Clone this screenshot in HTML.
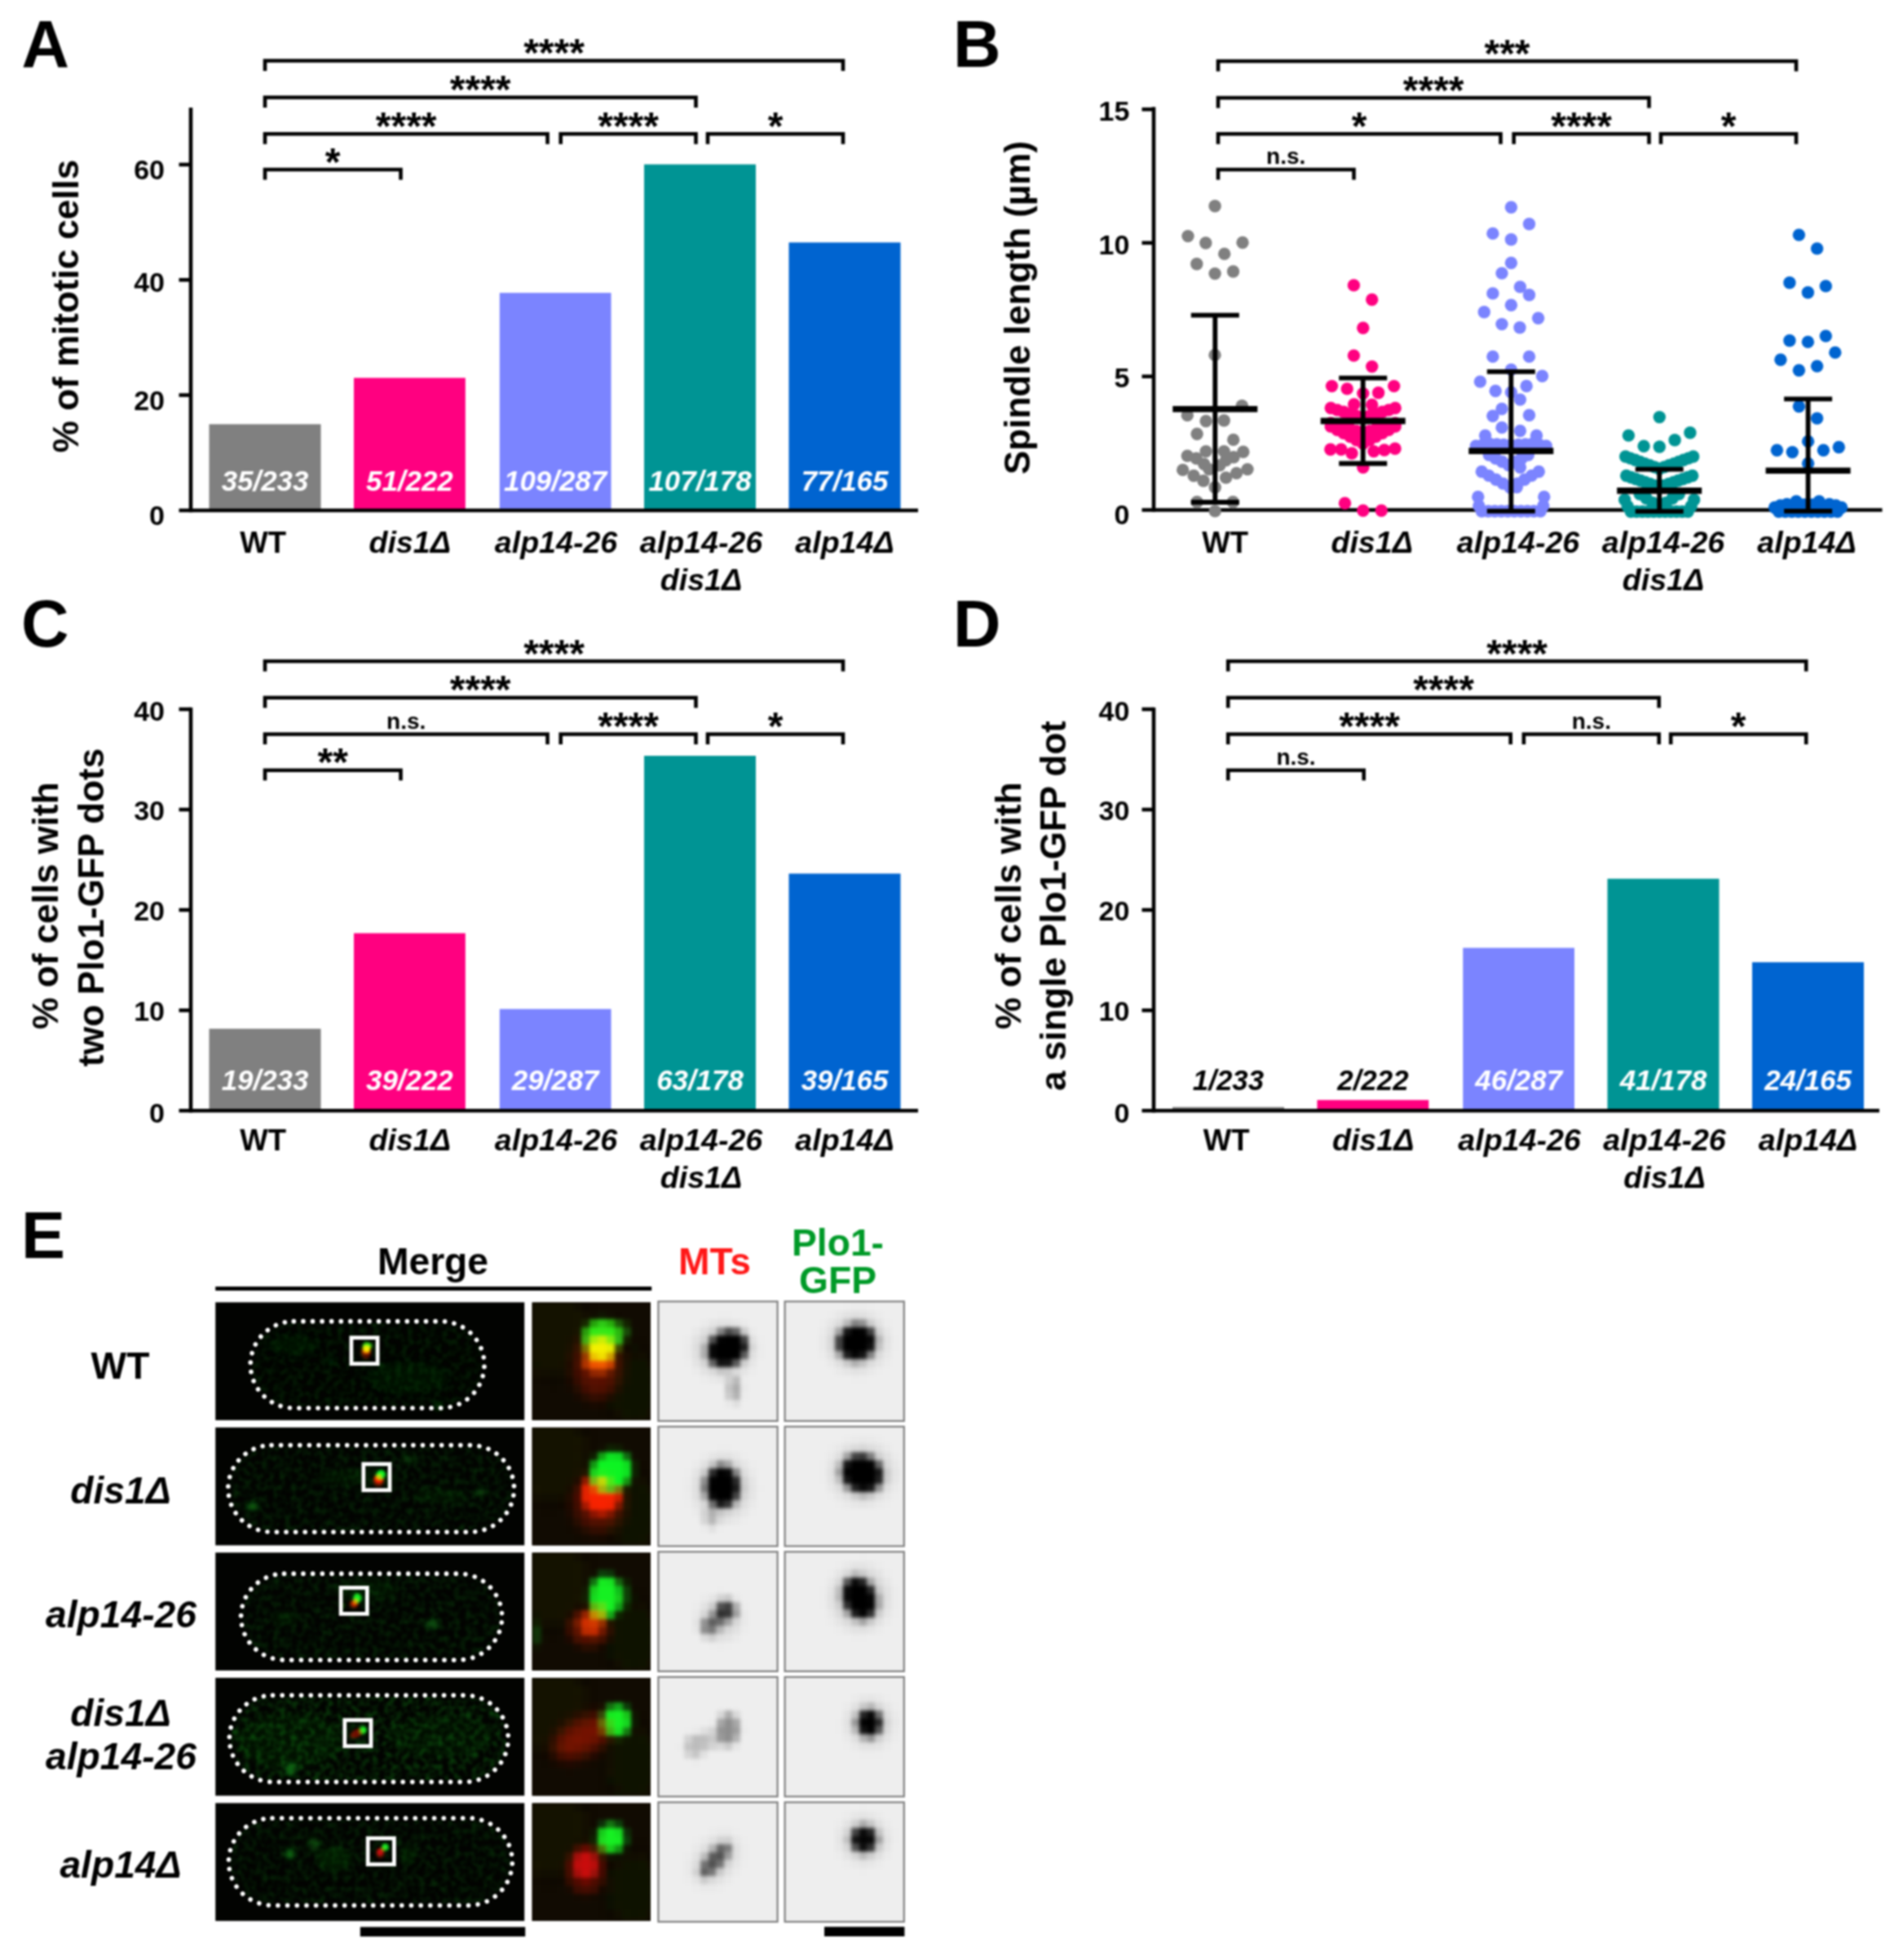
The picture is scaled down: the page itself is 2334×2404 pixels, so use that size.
<!DOCTYPE html><html><head><meta charset="utf-8"><title>Figure</title><style>html,body{margin:0;padding:0;background:#fff}svg{display:block;filter:blur(1px);font-family:"Liberation Sans",Arial,sans-serif;font-weight:bold;text-anchor:middle}</style></head><body><svg width="2334" height="2404" viewBox="0 0 2334 2404"><text x="26.5" y="82.3" font-size="81" text-anchor="start">A</text><text x="1169" y="82.3" font-size="81" text-anchor="start">B</text><text x="26" y="793" font-size="81" text-anchor="start">C</text><text x="1169" y="793" font-size="81" text-anchor="start">D</text><text x="26" y="1543" font-size="81" text-anchor="start">E</text><rect x="256.5" y="520.3" width="137" height="106.7" fill="#808080"/><rect x="434" y="463.5" width="136.8" height="163.5" fill="#ff0080"/><rect x="612.8" y="359.2" width="136.7" height="267.8" fill="#7b84ff"/><rect x="790" y="201.6" width="137" height="425.4" fill="#009494"/><rect x="967.5" y="297.4" width="137" height="329.6" fill="#0064d0"/><line x1="234" y1="132" x2="234" y2="628.3" stroke-width="4.6" stroke="#000"/><line x1="219.5" y1="626" x2="1126" y2="626" stroke-width="4.6" stroke="#000"/><line x1="219.5" y1="201.9" x2="234" y2="201.9" stroke-width="4.6" stroke="#000"/><text x="202" y="219.9" font-size="34" text-anchor="end">60</text><line x1="219.5" y1="343.3" x2="234" y2="343.3" stroke-width="4.6" stroke="#000"/><text x="202" y="358.3" font-size="34" text-anchor="end">40</text><line x1="219.5" y1="484.6" x2="234" y2="484.6" stroke-width="4.6" stroke="#000"/><text x="202" y="502.6" font-size="34" text-anchor="end">20</text><text x="202" y="644" font-size="34" text-anchor="end">0</text><text x="325" y="602.3" font-size="34.9" font-style="italic" fill="#fff">35/233</text><text x="502.4" y="602.3" font-size="34.9" font-style="italic" fill="#fff">51/222</text><text x="681.1" y="602.3" font-size="34.9" font-style="italic" fill="#fff">109/287</text><text x="858.5" y="602.3" font-size="34.9" font-style="italic" fill="#fff">107/178</text><text x="1036" y="602.3" font-size="34.9" font-style="italic" fill="#fff">77/165</text><text x="322.7" y="677.6" font-size="36.5">WT</text><text x="502.7" y="677.6" font-size="37.6" font-style="italic">dis1Δ</text><text x="682" y="677.6" font-size="37.6" font-style="italic">alp14-26</text><text x="860" y="677.6" font-size="37.6" font-style="italic">alp14-26</text><text x="860" y="724.2" font-size="37.6" font-style="italic">dis1Δ</text><text x="1036" y="677.6" font-size="37.6" font-style="italic">alp14Δ</text><g fill="none" stroke="#000" stroke-width="4.6" stroke-linejoin="miter"><path d="M325 87 V74.5 H1034 V87"/><path d="M325 132 V119.5 H853.5 V132"/><path d="M325 176.8 V164.3 H671.5 V176.8"/><path d="M687.7 176.8 V164.3 H853.5 V176.8"/><path d="M868 176.8 V164.3 H1034 V176.8"/><path d="M325 220.5 V208 H491.5 V220.5"/></g><text x="679.5" y="81" font-size="48">****</text><text x="589.2" y="126" font-size="48">****</text><text x="498.2" y="170.8" font-size="48">****</text><text x="770.6" y="170.8" font-size="48">****</text><text x="951" y="170.8" font-size="48">*</text><text x="408.2" y="214.5" font-size="48">*</text><text transform="translate(96 375.5) rotate(-90)" font-size="44">% of mitotic cells</text><rect x="256.5" y="1261.8" width="137" height="101.5" fill="#808080"/><rect x="434" y="1144.6" width="136.8" height="218.7" fill="#ff0080"/><rect x="612.8" y="1237.6" width="136.7" height="125.7" fill="#7b84ff"/><rect x="790" y="927" width="137" height="436.3" fill="#009494"/><rect x="967.5" y="1071.5" width="137" height="291.8" fill="#0064d0"/><line x1="234" y1="867.7" x2="234" y2="1364.6" stroke-width="4.6" stroke="#000"/><line x1="219.5" y1="1362.3" x2="1126" y2="1362.3" stroke-width="4.6" stroke="#000"/><line x1="219.5" y1="869.9" x2="234" y2="869.9" stroke-width="4.6" stroke="#000"/><text x="202" y="883.9" font-size="34" text-anchor="end">40</text><line x1="219.5" y1="993" x2="234" y2="993" stroke-width="4.6" stroke="#000"/><text x="202" y="1006" font-size="34" text-anchor="end">30</text><line x1="219.5" y1="1116.1" x2="234" y2="1116.1" stroke-width="4.6" stroke="#000"/><text x="202" y="1129.1" font-size="34" text-anchor="end">20</text><line x1="219.5" y1="1239.2" x2="234" y2="1239.2" stroke-width="4.6" stroke="#000"/><text x="202" y="1252.2" font-size="34" text-anchor="end">10</text><text x="202" y="1377.3" font-size="34" text-anchor="end">0</text><text x="325" y="1337.4" font-size="34.9" font-style="italic" fill="#fff">19/233</text><text x="502.4" y="1337.4" font-size="34.9" font-style="italic" fill="#fff">39/222</text><text x="681.1" y="1337.4" font-size="34.9" font-style="italic" fill="#fff">29/287</text><text x="858.5" y="1337.4" font-size="34.9" font-style="italic" fill="#fff">63/178</text><text x="1036" y="1337.4" font-size="34.9" font-style="italic" fill="#fff">39/165</text><text x="322.7" y="1411.2" font-size="36.5">WT</text><text x="502.7" y="1411.2" font-size="37.6" font-style="italic">dis1Δ</text><text x="682" y="1411.2" font-size="37.6" font-style="italic">alp14-26</text><text x="860" y="1411.2" font-size="37.6" font-style="italic">alp14-26</text><text x="860" y="1457" font-size="37.6" font-style="italic">dis1Δ</text><text x="1036" y="1411.2" font-size="37.6" font-style="italic">alp14Δ</text><g fill="none" stroke="#000" stroke-width="4.6" stroke-linejoin="miter"><path d="M325 823.5 V811 H1034 V823.5"/><path d="M325 868.3 V855.8 H853.5 V868.3"/><path d="M325 913 V900.5 H671.5 V913"/><path d="M687.7 913 V900.5 H853.5 V913"/><path d="M868 913 V900.5 H1034 V913"/><path d="M325 957.2 V944.7 H491.5 V957.2"/></g><text x="679.5" y="817.5" font-size="48">****</text><text x="589.2" y="862.3" font-size="48">****</text><text x="498.2" y="893.5" font-size="28">n.s.</text><text x="770.6" y="907" font-size="48">****</text><text x="951" y="907" font-size="48">*</text><text x="408.2" y="951.2" font-size="48">**</text><text transform="translate(71 1111) rotate(-90)" font-size="44">% of cells with</text><text transform="translate(127 1113) rotate(-90)" font-size="44">two Plo1-GFP dots</text><rect x="1438" y="1357.8" width="137" height="5.5" fill="#808080"/><rect x="1615.5" y="1349.2" width="136.8" height="14.1" fill="#ff0080"/><rect x="1794.3" y="1162.6" width="136.7" height="200.7" fill="#7b84ff"/><rect x="1971.5" y="1077.8" width="137" height="285.5" fill="#009494"/><rect x="2149" y="1180.2" width="137" height="183.1" fill="#0064d0"/><line x1="1415" y1="867.7" x2="1415" y2="1364.6" stroke-width="4.6" stroke="#000"/><line x1="1400.5" y1="1362.3" x2="2305" y2="1362.3" stroke-width="4.6" stroke="#000"/><line x1="1400.5" y1="869.9" x2="1415" y2="869.9" stroke-width="4.6" stroke="#000"/><text x="1385.4" y="883.9" font-size="34" text-anchor="end">40</text><line x1="1400.5" y1="993" x2="1415" y2="993" stroke-width="4.6" stroke="#000"/><text x="1385.4" y="1006" font-size="34" text-anchor="end">30</text><line x1="1400.5" y1="1116.1" x2="1415" y2="1116.1" stroke-width="4.6" stroke="#000"/><text x="1385.4" y="1129.1" font-size="34" text-anchor="end">20</text><line x1="1400.5" y1="1239.2" x2="1415" y2="1239.2" stroke-width="4.6" stroke="#000"/><text x="1385.4" y="1252.2" font-size="34" text-anchor="end">10</text><text x="1385.4" y="1377.3" font-size="34" text-anchor="end">0</text><text x="1506.5" y="1337.4" font-size="34.9" font-style="italic">1/233</text><text x="1683.9" y="1337.4" font-size="34.9" font-style="italic">2/222</text><text x="1862.7" y="1337.4" font-size="34.9" font-style="italic" fill="#fff">46/287</text><text x="2040" y="1337.4" font-size="34.9" font-style="italic" fill="#fff">41/178</text><text x="2217.5" y="1337.4" font-size="34.9" font-style="italic" fill="#fff">24/165</text><text x="1504.2" y="1411.2" font-size="36.5">WT</text><text x="1684.2" y="1411.2" font-size="37.6" font-style="italic">dis1Δ</text><text x="1863.5" y="1411.2" font-size="37.6" font-style="italic">alp14-26</text><text x="2041.5" y="1411.2" font-size="37.6" font-style="italic">alp14-26</text><text x="2041.5" y="1457" font-size="37.6" font-style="italic">dis1Δ</text><text x="2217.5" y="1411.2" font-size="37.6" font-style="italic">alp14Δ</text><g fill="none" stroke="#000" stroke-width="4.6" stroke-linejoin="miter"><path d="M1506.2 823.5 V811 H2215.2 V823.5"/><path d="M1506.2 868.3 V855.8 H2034.7 V868.3"/><path d="M1506.2 913 V900.5 H1852.7 V913"/><path d="M1868.9 913 V900.5 H2034.7 V913"/><path d="M2049.2 913 V900.5 H2215.2 V913"/><path d="M1506.2 957.2 V944.7 H1672.7 V957.2"/></g><text x="1860.7" y="817.5" font-size="48">****</text><text x="1770.5" y="862.3" font-size="48">****</text><text x="1679.5" y="907" font-size="48">****</text><text x="1951.8" y="893.5" font-size="28">n.s.</text><text x="2132.2" y="907" font-size="48">*</text><text x="1589.5" y="937.7" font-size="28">n.s.</text><text transform="translate(1251.5 1111) rotate(-90)" font-size="44">% of cells with</text><text transform="translate(1306.6 1111) rotate(-90)" font-size="44">a single Plo1-GFP dot</text><line x1="1415" y1="131.2" x2="1415" y2="627.8" stroke-width="4.6" stroke="#000"/><line x1="1400.5" y1="625.5" x2="2308.5" y2="625.5" stroke-width="4.6" stroke="#000"/><line x1="1400.5" y1="134.1" x2="1415" y2="134.1" stroke-width="4.6" stroke="#000"/><text x="1385.4" y="148.1" font-size="34" text-anchor="end">15</text><line x1="1400.5" y1="297.9" x2="1415" y2="297.9" stroke-width="4.6" stroke="#000"/><text x="1385.4" y="312.4" font-size="34" text-anchor="end">10</text><line x1="1400.5" y1="461.7" x2="1415" y2="461.7" stroke-width="4.6" stroke="#000"/><text x="1385.4" y="475.2" font-size="34" text-anchor="end">5</text><text x="1385.4" y="643" font-size="34" text-anchor="end">0</text><g fill="#808080"><circle cx="1490.1" cy="252.8" r="7.7"/><circle cx="1457" cy="289.6" r="7.7"/><circle cx="1478.8" cy="298" r="7.7"/><circle cx="1524" cy="297.5" r="7.7"/><circle cx="1501.7" cy="311.4" r="7.7"/><circle cx="1467.8" cy="323.8" r="7.7"/><circle cx="1490.1" cy="335.6" r="7.7"/><circle cx="1512.5" cy="333" r="7.7"/><circle cx="1490" cy="435.4" r="7.7"/><circle cx="1523.3" cy="497.6" r="7.7"/><circle cx="1456.3" cy="509.4" r="7.7"/><circle cx="1479.1" cy="516.5" r="7.7"/><circle cx="1501.2" cy="515.7" r="7.7"/><circle cx="1468.1" cy="532.3" r="7.7"/><circle cx="1512.7" cy="539.4" r="7.7"/><circle cx="1479.1" cy="553.6" r="7.7"/><circle cx="1501.2" cy="553.6" r="7.7"/><circle cx="1456.3" cy="559.1" r="7.7"/><circle cx="1524.8" cy="554.3" r="7.7"/><circle cx="1467.3" cy="562.2" r="7.7"/><circle cx="1513" cy="560.7" r="7.7"/><circle cx="1476.8" cy="569.3" r="7.7"/><circle cx="1503.6" cy="564.6" r="7.7"/><circle cx="1483" cy="575.6" r="7.7"/><circle cx="1495.7" cy="570.9" r="7.7"/><circle cx="1450.7" cy="576.4" r="7.7"/><circle cx="1464.1" cy="583.5" r="7.7"/><circle cx="1476" cy="589.8" r="7.7"/><circle cx="1530" cy="575.6" r="7.7"/><circle cx="1516.5" cy="580.4" r="7.7"/><circle cx="1503.6" cy="585.9" r="7.7"/><circle cx="1490.2" cy="597.7" r="7.7"/><circle cx="1468.1" cy="615.8" r="7.7"/><circle cx="1512.2" cy="615.8" r="7.7"/><circle cx="1490.2" cy="626.9" r="7.7"/></g><g fill="#ff0080"><circle cx="1660.4" cy="349.9" r="7.7"/><circle cx="1682.7" cy="367.5" r="7.7"/><circle cx="1671.8" cy="402.3" r="7.7"/><circle cx="1660.4" cy="436.1" r="7.7"/><circle cx="1682.7" cy="449.6" r="7.7"/><circle cx="1633.5" cy="473.6" r="7.7"/><circle cx="1652.2" cy="476.9" r="7.7"/><circle cx="1671.8" cy="482.6" r="7.7"/><circle cx="1690.6" cy="481.8" r="7.7"/><circle cx="1709.7" cy="473.6" r="7.7"/><circle cx="1660.7" cy="496" r="7.7"/><circle cx="1682.7" cy="496.5" r="7.7"/><circle cx="1671.7" cy="512.5" r="7.7"/><circle cx="1663.8" cy="510.1" r="7.7"/><circle cx="1679.6" cy="510.1" r="7.7"/><circle cx="1655.9" cy="507.7" r="7.7"/><circle cx="1687.5" cy="507.7" r="7.7"/><circle cx="1648" cy="505.3" r="7.7"/><circle cx="1695.4" cy="505.3" r="7.7"/><circle cx="1640.1" cy="502.9" r="7.7"/><circle cx="1703.3" cy="502.9" r="7.7"/><circle cx="1632.2" cy="500.5" r="7.7"/><circle cx="1711.2" cy="500.5" r="7.7"/><circle cx="1671.7" cy="531" r="7.7"/><circle cx="1663.8" cy="528.6" r="7.7"/><circle cx="1679.6" cy="528.6" r="7.7"/><circle cx="1655.9" cy="526.2" r="7.7"/><circle cx="1687.5" cy="526.2" r="7.7"/><circle cx="1648" cy="523.8" r="7.7"/><circle cx="1695.4" cy="523.8" r="7.7"/><circle cx="1640.1" cy="521.4" r="7.7"/><circle cx="1703.3" cy="521.4" r="7.7"/><circle cx="1632.2" cy="519" r="7.7"/><circle cx="1711.2" cy="519" r="7.7"/><circle cx="1671.7" cy="544" r="7.7"/><circle cx="1663.8" cy="539.8" r="7.7"/><circle cx="1679.6" cy="539.8" r="7.7"/><circle cx="1655.9" cy="535.6" r="7.7"/><circle cx="1687.5" cy="535.6" r="7.7"/><circle cx="1648" cy="531.4" r="7.7"/><circle cx="1695.4" cy="531.4" r="7.7"/><circle cx="1640.1" cy="527.2" r="7.7"/><circle cx="1703.3" cy="527.2" r="7.7"/><circle cx="1632.2" cy="523" r="7.7"/><circle cx="1711.2" cy="523" r="7.7"/><circle cx="1631.8" cy="551.2" r="7.7"/><circle cx="1644.9" cy="551.2" r="7.7"/><circle cx="1658" cy="556" r="7.7"/><circle cx="1684.9" cy="553.6" r="7.7"/><circle cx="1697.9" cy="552" r="7.7"/><circle cx="1711" cy="550.3" r="7.7"/><circle cx="1671.8" cy="573.2" r="7.7"/><circle cx="1649.5" cy="617.3" r="7.7"/><circle cx="1671.8" cy="626.2" r="7.7"/><circle cx="1694.3" cy="626.2" r="7.7"/></g><g fill="#7b84ff"><circle cx="1853.4" cy="254.3" r="7.7"/><circle cx="1875.5" cy="274.7" r="7.7"/><circle cx="1830.9" cy="286.4" r="7.7"/><circle cx="1853.4" cy="293.8" r="7.7"/><circle cx="1853.4" cy="322.5" r="7.7"/><circle cx="1842" cy="335.1" r="7.7"/><circle cx="1864.4" cy="351.9" r="7.7"/><circle cx="1830.9" cy="359.9" r="7.7"/><circle cx="1875.5" cy="361.7" r="7.7"/><circle cx="1853.4" cy="374.2" r="7.7"/><circle cx="1820.3" cy="382.7" r="7.7"/><circle cx="1886.6" cy="390.2" r="7.7"/><circle cx="1842" cy="397.6" r="7.7"/><circle cx="1864" cy="401.7" r="7.7"/><circle cx="1830.9" cy="437.4" r="7.7"/><circle cx="1875.5" cy="437.4" r="7.7"/><circle cx="1853.4" cy="453.4" r="7.7"/><circle cx="1891.5" cy="461.2" r="7.7"/><circle cx="1815.4" cy="468.1" r="7.7"/><circle cx="1872.2" cy="473.5" r="7.7"/><circle cx="1834.2" cy="479.5" r="7.7"/><circle cx="1853.4" cy="481.1" r="7.7"/><circle cx="1864.4" cy="490.1" r="7.7"/><circle cx="1842" cy="501.5" r="7.7"/><circle cx="1830.9" cy="510.2" r="7.7"/><circle cx="1875.5" cy="509.2" r="7.7"/><circle cx="1842" cy="524.4" r="7.7"/><circle cx="1864.4" cy="528.5" r="7.7"/><circle cx="1821.6" cy="534.2" r="7.7"/><circle cx="1884.5" cy="534.2" r="7.7"/><circle cx="1810.3" cy="547" r="7.7"/><circle cx="1818.8" cy="545.5" r="7.7"/><circle cx="1827.3" cy="544.5" r="7.7"/><circle cx="1835.8" cy="545" r="7.7"/><circle cx="1844.3" cy="545.5" r="7.7"/><circle cx="1853.3" cy="546" r="7.7"/><circle cx="1862.3" cy="545.5" r="7.7"/><circle cx="1870.8" cy="545" r="7.7"/><circle cx="1879.3" cy="544.5" r="7.7"/><circle cx="1887.8" cy="545.5" r="7.7"/><circle cx="1896.3" cy="547" r="7.7"/><circle cx="1850.3" cy="570.5" r="7.7"/><circle cx="1842.3" cy="566.3" r="7.7"/><circle cx="1858.3" cy="566.3" r="7.7"/><circle cx="1834.3" cy="562.2" r="7.7"/><circle cx="1866.3" cy="562.2" r="7.7"/><circle cx="1826.3" cy="558" r="7.7"/><circle cx="1874.3" cy="558" r="7.7"/><circle cx="1864.4" cy="573.2" r="7.7"/><circle cx="1852.3" cy="598" r="7.7"/><circle cx="1843.5" cy="593.1" r="7.7"/><circle cx="1861" cy="593.1" r="7.7"/><circle cx="1834.8" cy="588.2" r="7.7"/><circle cx="1869.8" cy="588.2" r="7.7"/><circle cx="1826" cy="583.4" r="7.7"/><circle cx="1878.5" cy="583.4" r="7.7"/><circle cx="1817.3" cy="578.5" r="7.7"/><circle cx="1887.3" cy="578.5" r="7.7"/><circle cx="1860.3" cy="597.5" r="7.7"/><circle cx="1817.3" cy="627" r="7.7"/><circle cx="1825.3" cy="627" r="7.7"/><circle cx="1833.3" cy="627" r="7.7"/><circle cx="1841.3" cy="627" r="7.7"/><circle cx="1849.3" cy="627" r="7.7"/><circle cx="1857.3" cy="627" r="7.7"/><circle cx="1865.3" cy="627" r="7.7"/><circle cx="1873.3" cy="627" r="7.7"/><circle cx="1881.3" cy="627" r="7.7"/><circle cx="1889.3" cy="627" r="7.7"/><circle cx="1813.8" cy="620.5" r="7.7"/><circle cx="1892.8" cy="620.5" r="7.7"/><circle cx="1812.8" cy="609.5" r="7.7"/><circle cx="1893.8" cy="609.5" r="7.7"/></g><g fill="#009494"><circle cx="2035.3" cy="511.6" r="7.7"/><circle cx="1997.4" cy="534.1" r="7.7"/><circle cx="2072.9" cy="530.8" r="7.7"/><circle cx="2054.1" cy="539.8" r="7.7"/><circle cx="2016.1" cy="547.2" r="7.7"/><circle cx="2035.3" cy="548" r="7.7"/><circle cx="2035.2" cy="575" r="7.7"/><circle cx="2029.3" cy="572.9" r="7.7"/><circle cx="2041.1" cy="572.9" r="7.7"/><circle cx="2023.3" cy="570.7" r="7.7"/><circle cx="2047.1" cy="570.7" r="7.7"/><circle cx="2017.4" cy="568.6" r="7.7"/><circle cx="2053" cy="568.6" r="7.7"/><circle cx="2011.5" cy="566.4" r="7.7"/><circle cx="2058.9" cy="566.4" r="7.7"/><circle cx="2005.6" cy="564.3" r="7.7"/><circle cx="2064.8" cy="564.3" r="7.7"/><circle cx="1999.6" cy="562.1" r="7.7"/><circle cx="2070.8" cy="562.1" r="7.7"/><circle cx="1993.7" cy="560" r="7.7"/><circle cx="2076.7" cy="560" r="7.7"/><circle cx="2035.2" cy="597.5" r="7.7"/><circle cx="2029.4" cy="595.5" r="7.7"/><circle cx="2041" cy="595.5" r="7.7"/><circle cx="2023.6" cy="593.5" r="7.7"/><circle cx="2046.8" cy="593.5" r="7.7"/><circle cx="2017.8" cy="591.5" r="7.7"/><circle cx="2052.6" cy="591.5" r="7.7"/><circle cx="2012.1" cy="589.5" r="7.7"/><circle cx="2058.3" cy="589.5" r="7.7"/><circle cx="2006.3" cy="587.5" r="7.7"/><circle cx="2064.1" cy="587.5" r="7.7"/><circle cx="2000.5" cy="585.5" r="7.7"/><circle cx="2069.9" cy="585.5" r="7.7"/><circle cx="1994.7" cy="583.5" r="7.7"/><circle cx="2075.7" cy="583.5" r="7.7"/><circle cx="2035.2" cy="622" r="7.7"/><circle cx="2027.2" cy="616.7" r="7.7"/><circle cx="2043.2" cy="616.7" r="7.7"/><circle cx="2019.2" cy="611.3" r="7.7"/><circle cx="2051.2" cy="611.3" r="7.7"/><circle cx="2011.2" cy="606" r="7.7"/><circle cx="2059.2" cy="606" r="7.7"/><circle cx="2000.2" cy="627.5" r="7.7"/><circle cx="2007.2" cy="627.5" r="7.7"/><circle cx="2014.2" cy="627.5" r="7.7"/><circle cx="2021.2" cy="627.5" r="7.7"/><circle cx="2028.2" cy="627.5" r="7.7"/><circle cx="2035.2" cy="627.5" r="7.7"/><circle cx="2042.2" cy="627.5" r="7.7"/><circle cx="2049.2" cy="627.5" r="7.7"/><circle cx="2056.2" cy="627.5" r="7.7"/><circle cx="2063.2" cy="627.5" r="7.7"/><circle cx="2070.2" cy="627.5" r="7.7"/><circle cx="1996.2" cy="621" r="7.7"/><circle cx="2074.2" cy="621" r="7.7"/><circle cx="1992.7" cy="613" r="7.7"/><circle cx="2077.7" cy="613" r="7.7"/></g><g fill="#0064d0"><circle cx="2206.4" cy="288.1" r="7.7"/><circle cx="2228.6" cy="304.9" r="7.7"/><circle cx="2194.9" cy="346.7" r="7.7"/><circle cx="2217.4" cy="358.8" r="7.7"/><circle cx="2239.3" cy="350.9" r="7.7"/><circle cx="2194.9" cy="417.7" r="7.7"/><circle cx="2217.4" cy="419.4" r="7.7"/><circle cx="2239.3" cy="412.1" r="7.7"/><circle cx="2250.8" cy="432.4" r="7.7"/><circle cx="2183.9" cy="441.2" r="7.7"/><circle cx="2206.4" cy="454.2" r="7.7"/><circle cx="2228.6" cy="449.1" r="7.7"/><circle cx="2206.4" cy="498.5" r="7.7"/><circle cx="2228.6" cy="513.1" r="7.7"/><circle cx="2217.6" cy="541.4" r="7.7"/><circle cx="2179.4" cy="552.2" r="7.7"/><circle cx="2198.3" cy="554.6" r="7.7"/><circle cx="2236.4" cy="552.2" r="7.7"/><circle cx="2255.3" cy="548.5" r="7.7"/><circle cx="2217.6" cy="568.4" r="7.7"/><circle cx="2181.6" cy="627.5" r="7.7"/><circle cx="2189.6" cy="627.5" r="7.7"/><circle cx="2197.6" cy="627.5" r="7.7"/><circle cx="2205.6" cy="627.5" r="7.7"/><circle cx="2213.6" cy="627.5" r="7.7"/><circle cx="2221.6" cy="627.5" r="7.7"/><circle cx="2229.6" cy="627.5" r="7.7"/><circle cx="2237.6" cy="627.5" r="7.7"/><circle cx="2245.6" cy="627.5" r="7.7"/><circle cx="2253.6" cy="627.5" r="7.7"/><circle cx="2176.6" cy="622.5" r="7.7"/><circle cx="2183.6" cy="620" r="7.7"/><circle cx="2191.6" cy="618.5" r="7.7"/><circle cx="2203.1" cy="615" r="7.7"/><circle cx="2212.6" cy="619" r="7.7"/><circle cx="2222.6" cy="619" r="7.7"/><circle cx="2231.1" cy="615" r="7.7"/><circle cx="2243.6" cy="618.5" r="7.7"/><circle cx="2251.6" cy="620" r="7.7"/><circle cx="2258.6" cy="622.5" r="7.7"/></g><line x1="1490.3" y1="386.7" x2="1490.3" y2="616" stroke-width="5.8" stroke="#000"/><line x1="1460.8" y1="386.7" x2="1519.8" y2="386.7" stroke-width="5.8" stroke="#000"/><line x1="1460.8" y1="616" x2="1519.8" y2="616" stroke-width="5.8" stroke="#000"/><line x1="1438.3" y1="501.7" x2="1542.3" y2="501.7" stroke-width="7.6" stroke="#000"/><line x1="1671.7" y1="463.7" x2="1671.7" y2="568.5" stroke-width="5.8" stroke="#000"/><line x1="1642.2" y1="463.7" x2="1701.2" y2="463.7" stroke-width="5.8" stroke="#000"/><line x1="1642.2" y1="568.5" x2="1701.2" y2="568.5" stroke-width="5.8" stroke="#000"/><line x1="1619.7" y1="516.4" x2="1723.7" y2="516.4" stroke-width="7.6" stroke="#000"/><line x1="1853.3" y1="455.8" x2="1853.3" y2="626.8" stroke-width="5.8" stroke="#000"/><line x1="1823.8" y1="455.8" x2="1882.8" y2="455.8" stroke-width="5.8" stroke="#000"/><line x1="1823.8" y1="626.8" x2="1882.8" y2="626.8" stroke-width="5.8" stroke="#000"/><line x1="1801.3" y1="553.1" x2="1905.3" y2="553.1" stroke-width="7.6" stroke="#000"/><line x1="2035.2" y1="575.7" x2="2035.2" y2="627.1" stroke-width="5.8" stroke="#000"/><line x1="2005.7" y1="575.7" x2="2064.7" y2="575.7" stroke-width="5.8" stroke="#000"/><line x1="2005.7" y1="627.1" x2="2064.7" y2="627.1" stroke-width="5.8" stroke="#000"/><line x1="1983.2" y1="601.9" x2="2087.2" y2="601.9" stroke-width="7.6" stroke="#000"/><line x1="2217.6" y1="489.4" x2="2217.6" y2="626.8" stroke-width="5.8" stroke="#000"/><line x1="2188.1" y1="489.4" x2="2247.1" y2="489.4" stroke-width="5.8" stroke="#000"/><line x1="2188.1" y1="626.8" x2="2247.1" y2="626.8" stroke-width="5.8" stroke="#000"/><line x1="2165.6" y1="577.2" x2="2269.6" y2="577.2" stroke-width="7.6" stroke="#000"/><text x="1502.7" y="677.9" font-size="36.5">WT</text><text x="1682.7" y="677.9" font-size="37.6" font-style="italic">dis1Δ</text><text x="1862" y="677.9" font-size="37.6" font-style="italic">alp14-26</text><text x="2040" y="677.9" font-size="37.6" font-style="italic">alp14-26</text><text x="2040" y="724.1" font-size="37.6" font-style="italic">dis1Δ</text><text x="2216" y="677.9" font-size="37.6" font-style="italic">alp14Δ</text><g fill="none" stroke="#000" stroke-width="4.6" stroke-linejoin="miter"><path d="M1494 87.5 V75 H2203 V87.5"/><path d="M1494 132.5 V120 H2022.5 V132.5"/><path d="M1494 176.8 V164.3 H1840.5 V176.8"/><path d="M1856.7 176.8 V164.3 H2022.5 V176.8"/><path d="M2037 176.8 V164.3 H2203 V176.8"/><path d="M1494 220.5 V208 H1660.5 V220.5"/></g><text x="1848.5" y="81.5" font-size="48">***</text><text x="1758.2" y="126.5" font-size="48">****</text><text x="1667.2" y="170.8" font-size="48">*</text><text x="1939.6" y="170.8" font-size="48">****</text><text x="2120" y="170.8" font-size="48">*</text><text x="1577.2" y="201" font-size="28">n.s.</text><text transform="translate(1263 377.5) rotate(-90)" font-size="44">Spindle length (µm)</text><text x="531" y="1562.6" font-size="46.2">Merge</text><text x="876.5" y="1562.6" font-size="46.2" fill="#ff1818">MTs</text><text x="1027.5" y="1540" font-size="46.2" fill="#009a28">Plo1-</text><text x="1027.5" y="1585.6" font-size="46.2" fill="#009a28">GFP</text><line x1="264.2" y1="1580.5" x2="799.2" y2="1580.5" stroke-width="5.2" stroke="#000"/><text x="147.5" y="1690.6" font-size="46.2">WT</text><text x="148" y="1844" font-size="46.2" font-style="italic">dis1Δ</text><text x="148.5" y="1996" font-size="46.2" font-style="italic">alp14-26</text><text x="148" y="2116.8" font-size="46.2" font-style="italic">dis1Δ</text><text x="148.5" y="2170.3" font-size="46.2" font-style="italic">alp14-26</text><text x="148" y="2302.8" font-size="46.2" font-style="italic">alp14Δ</text><defs><filter id="b4" x="-50%" y="-50%" width="200%" height="200%"><feGaussianBlur stdDeviation="3.6"/></filter><filter id="b3" x="-50%" y="-50%" width="200%" height="200%"><feGaussianBlur stdDeviation="3"/></filter><filter id="b7" x="-50%" y="-50%" width="200%" height="200%"><feGaussianBlur stdDeviation="8"/></filter><filter id="b1" x="-50%" y="-50%" width="200%" height="200%"><feGaussianBlur stdDeviation="1.5"/></filter><filter id="px" filterUnits="userSpaceOnUse" x="0" y="0" width="146.3" height="146.7" color-interpolation-filters="sRGB"><feFlood x="5" y="5" width="1" height="1"/><feComposite width="11" height="11"/><feTile result="t"/><feComposite in="SourceGraphic" in2="t" operator="in"/><feMorphology operator="dilate" radius="5"/><feGaussianBlur stdDeviation="2.3"/></filter><clipPath id="cz"><rect x="0" y="0" width="145.5" height="144.6"/></clipPath><filter id="nz" x="0" y="0" width="100%" height="100%" color-interpolation-filters="sRGB"><feTurbulence type="fractalNoise" baseFrequency="0.14" numOctaves="2" seed="5"/><feColorMatrix type="matrix" values="0 0 0 0 0.08  0 0 0 0 0.62  0 0 0 0 0.1  0 1.5 0 0 -0.6"/><feGaussianBlur stdDeviation="0.8"/><feComposite in2="SourceAlpha" operator="in"/></filter></defs><rect x="264.2" y="1597.3" width="379" height="144.6" fill="#020301"/><g filter="url(#b3)" fill="#18c020"><ellipse cx="360" cy="1650" rx="30" ry="12" opacity="0.07"/><ellipse cx="500" cy="1690" rx="50" ry="20" opacity="0.07"/><ellipse cx="538" cy="1725" rx="4" ry="4" opacity="0.4"/><ellipse cx="406" cy="1670" rx="5" ry="4" opacity="0.2"/></g><rect x="309.2" y="1622.7" width="282.8" height="102.3" rx="51.1" filter="url(#nz)" opacity="0.3"/><rect x="307.2" y="1620.7" width="286.8" height="106.3" rx="53.1" fill="none" stroke="#fff" stroke-width="5.7" stroke-linecap="round" stroke-dasharray="0.01 11.573"/><g filter="url(#b1)"><ellipse cx="448.8" cy="1658.2" rx="6.4" ry="8.7" fill="#b01800" opacity="0.45"/><ellipse cx="449.2" cy="1657.2" rx="4.5" ry="3.5" fill="#f05000"/><ellipse cx="453.6" cy="1650.1" rx="3.7" ry="3.3" fill="#208010" opacity="0.7"/><ellipse cx="449.9" cy="1651.3" rx="5.4" ry="4.8" fill="#30e818"/><ellipse cx="449.7" cy="1654.2" rx="4.3" ry="3.7" fill="#f4f000"/></g><rect x="430.9" y="1640.7" width="32.2" height="32" fill="none" stroke="#fff" stroke-width="4.8"/><rect x="652.5" y="1597.3" width="145.5" height="144.6" fill="#110b02"/><g transform="translate(652.5 1597.3)" clip-path="url(#cz)"><g filter="url(#px)"><rect x="0" y="0" width="147" height="147" fill="#110b02"/><ellipse cx="25" cy="35" rx="40" ry="55" fill="#121600" opacity="0.7" filter="url(#b7)"/><ellipse cx="125" cy="105" rx="30" ry="45" fill="#0c1802" opacity="0.7" filter="url(#b7)"/><ellipse cx="80" cy="78" rx="28" ry="40" fill="#b01800" opacity="0.45" filter="url(#b7)"/><ellipse cx="82" cy="73" rx="18" ry="13" fill="#f05000" filter="url(#b4)"/><ellipse cx="105" cy="36" rx="14" ry="12" fill="#208010" opacity="0.7" filter="url(#b4)"/><ellipse cx="86" cy="42" rx="23" ry="20" fill="#30e818" filter="url(#b4)"/><ellipse cx="84.5" cy="57" rx="17" ry="14" fill="#f4f000" filter="url(#b4)"/></g></g><rect x="807.4" y="1596.3" width="146.2" height="146.6" fill="#eeeeee"/><g transform="translate(807.4 1596.3)" filter="url(#px)"><rect x="0" y="0" width="147" height="147" fill="#eeeeee"/><ellipse cx="84.5" cy="58" rx="27" ry="22.5" transform="rotate(-30 84.5 58)" filter="url(#b4)"/><ellipse cx="93" cy="108" rx="8" ry="17" opacity="0.3" filter="url(#b4)"/><ellipse cx="80" cy="60" rx="36" ry="32" opacity="0.12" filter="url(#b7)"/></g><rect x="807.4" y="1596.3" width="146.2" height="146.6" fill="none" stroke="#808080" stroke-width="2.2"/><rect x="962.6" y="1596.3" width="146.2" height="146.6" fill="#eeeeee"/><g transform="translate(962.6 1596.3)" filter="url(#px)"><rect x="0" y="0" width="147" height="147" fill="#eeeeee"/><ellipse cx="88" cy="50" rx="25" ry="23" transform="rotate(-20 88 50)" filter="url(#b4)"/><ellipse cx="88" cy="50" rx="36" ry="34" opacity="0.12" filter="url(#b7)"/></g><rect x="962.6" y="1596.3" width="146.2" height="146.6" fill="none" stroke="#808080" stroke-width="2.2"/><rect x="264.2" y="1750.8" width="379" height="144.6" fill="#020301"/><g filter="url(#b3)" fill="#18c020"><ellipse cx="310" cy="1848" rx="8" ry="4" opacity="0.5"/><ellipse cx="440" cy="1812" rx="50" ry="10" opacity="0.08"/><ellipse cx="500" cy="1790" rx="7" ry="4" opacity="0.3"/><ellipse cx="590" cy="1830" rx="7" ry="5" opacity="0.25"/><ellipse cx="540" cy="1835" rx="35" ry="10" opacity="0.07"/></g><rect x="281.8" y="1774.6" width="346.7" height="102.4" rx="51.2" filter="url(#nz)" opacity="0.35"/><rect x="279.8" y="1772.6" width="350.7" height="106.4" rx="53.2" fill="none" stroke="#fff" stroke-width="5.7" stroke-linecap="round" stroke-dasharray="0.01 11.580"/><g filter="url(#b1)"><ellipse cx="464.1" cy="1816.1" rx="6.8" ry="7.5" fill="#a01400" opacity="0.5"/><ellipse cx="464.7" cy="1813.8" rx="5.6" ry="5.8" fill="#f82400"/><ellipse cx="467" cy="1808.6" rx="6" ry="5.4" fill="#10f420" transform="rotate(-35 467 1808.6)"/><ellipse cx="464.8" cy="1811.3" rx="2.9" ry="2.3" fill="#f0d000" opacity="0.9" transform="rotate(-35 464.8 1811.3)"/></g><rect x="445.8" y="1795.7" width="32.2" height="32" fill="none" stroke="#fff" stroke-width="4.8"/><rect x="652.5" y="1750.8" width="145.5" height="144.6" fill="#110b02"/><g transform="translate(652.5 1750.8)" clip-path="url(#cz)"><g filter="url(#px)"><rect x="0" y="0" width="147" height="147" fill="#110b02"/><ellipse cx="25" cy="35" rx="40" ry="55" fill="#121600" opacity="0.7" filter="url(#b7)"/><ellipse cx="125" cy="105" rx="30" ry="45" fill="#0c1802" opacity="0.7" filter="url(#b7)"/><ellipse cx="82" cy="93" rx="30" ry="34" fill="#a01400" opacity="0.5" filter="url(#b7)"/><ellipse cx="85" cy="81" rx="24" ry="25" fill="#f82400" filter="url(#b4)"/><ellipse cx="97" cy="54" rx="26" ry="23" fill="#10f420" transform="rotate(-35 97 54)" filter="url(#b4)"/><ellipse cx="86" cy="68" rx="10" ry="7" fill="#f0d000" opacity="0.9" transform="rotate(-35 86 68)" filter="url(#b4)"/></g></g><rect x="807.4" y="1749.8" width="146.2" height="146.6" fill="#eeeeee"/><g transform="translate(807.4 1749.8)" filter="url(#px)"><rect x="0" y="0" width="147" height="147" fill="#eeeeee"/><ellipse cx="78.5" cy="73.5" rx="22" ry="27" filter="url(#b4)"/><ellipse cx="65" cy="112" rx="9" ry="12" opacity="0.22" filter="url(#b4)"/><ellipse cx="79" cy="75" rx="34" ry="38" opacity="0.12" filter="url(#b7)"/></g><rect x="807.4" y="1749.8" width="146.2" height="146.6" fill="none" stroke="#808080" stroke-width="2.2"/><rect x="962.6" y="1749.8" width="146.2" height="146.6" fill="#eeeeee"/><g transform="translate(962.6 1749.8)" filter="url(#px)"><rect x="0" y="0" width="147" height="147" fill="#eeeeee"/><ellipse cx="94.5" cy="57.5" rx="27" ry="24" transform="rotate(25 94.5 57.5)" filter="url(#b4)"/><ellipse cx="95" cy="57" rx="38" ry="35" opacity="0.12" filter="url(#b7)"/></g><rect x="962.6" y="1749.8" width="146.2" height="146.6" fill="none" stroke="#808080" stroke-width="2.2"/><rect x="264.2" y="1904.3" width="379" height="144.6" fill="#020301"/><g filter="url(#b3)" fill="#18c020"><ellipse cx="450" cy="1950" rx="40" ry="14" opacity="0.07"/><ellipse cx="530" cy="1992" rx="8" ry="5" opacity="0.4"/><ellipse cx="350" cy="1985" rx="16" ry="10" opacity="0.07"/></g><rect x="297.6" y="1932.2" width="316.1" height="101.8" rx="50.9" filter="url(#nz)" opacity="0.35"/><rect x="295.6" y="1930.2" width="320.1" height="105.8" rx="52.9" fill="none" stroke="#fff" stroke-width="5.7" stroke-linecap="round" stroke-dasharray="0.01 11.697"/><g filter="url(#b1)"><ellipse cx="421" cy="1969.1" rx="2.5" ry="3.7" fill="#106008" opacity="0.6"/><ellipse cx="434.1" cy="1967.6" rx="6" ry="5.6" fill="#901400" opacity="0.45"/><ellipse cx="434.5" cy="1966.8" rx="3.9" ry="3.7" fill="#d83000" opacity="0.95"/><ellipse cx="441.4" cy="1959.9" rx="3.3" ry="4.5" fill="#0c7010" opacity="0.6"/><ellipse cx="437.9" cy="1960.3" rx="4.7" ry="6" fill="#18f020"/><ellipse cx="436.2" cy="1964.1" rx="2.5" ry="2.7" fill="#e8b000" opacity="0.9"/></g><rect x="418.1" y="1947.4" width="32.2" height="32" fill="none" stroke="#fff" stroke-width="4.8"/><rect x="652.5" y="1904.3" width="145.5" height="144.6" fill="#110b02"/><g transform="translate(652.5 1904.3)" clip-path="url(#cz)"><g filter="url(#px)"><rect x="0" y="0" width="147" height="147" fill="#110b02"/><ellipse cx="25" cy="35" rx="40" ry="55" fill="#121600" opacity="0.7" filter="url(#b7)"/><ellipse cx="125" cy="105" rx="30" ry="45" fill="#0c1802" opacity="0.7" filter="url(#b7)"/><ellipse cx="2" cy="100" rx="8" ry="14" fill="#106008" opacity="0.6" filter="url(#b4)"/><ellipse cx="70" cy="92" rx="26" ry="24" fill="#901400" opacity="0.45" filter="url(#b4)"/><ellipse cx="72" cy="88" rx="15" ry="14" fill="#d83000" opacity="0.95" filter="url(#b4)"/><ellipse cx="108" cy="52" rx="12" ry="18" fill="#0c7010" opacity="0.6" filter="url(#b4)"/><ellipse cx="90" cy="54" rx="19" ry="26" fill="#18f020" filter="url(#b4)"/><ellipse cx="81" cy="74" rx="8" ry="9" fill="#e8b000" opacity="0.9" filter="url(#b4)"/></g></g><rect x="807.4" y="1903.3" width="146.2" height="146.6" fill="#eeeeee"/><g transform="translate(807.4 1903.3)" filter="url(#px)"><rect x="0" y="0" width="147" height="147" fill="#eeeeee"/><ellipse cx="83" cy="72" rx="13" ry="13" opacity="0.75" filter="url(#b4)"/><ellipse cx="63" cy="92" rx="12" ry="12" opacity="0.45" filter="url(#b4)"/><ellipse cx="73" cy="82" rx="10" ry="10" opacity="0.4" filter="url(#b4)"/><ellipse cx="76" cy="82" rx="24" ry="24" opacity="0.12" filter="url(#b7)"/></g><rect x="807.4" y="1903.3" width="146.2" height="146.6" fill="none" stroke="#808080" stroke-width="2.2"/><rect x="962.6" y="1903.3" width="146.2" height="146.6" fill="#eeeeee"/><g transform="translate(962.6 1903.3)" filter="url(#px)"><rect x="0" y="0" width="147" height="147" fill="#eeeeee"/><ellipse cx="91.5" cy="57" rx="21" ry="28" transform="rotate(-22 91.5 57)" filter="url(#b4)"/><ellipse cx="92" cy="57" rx="34" ry="38" opacity="0.12" filter="url(#b7)"/></g><rect x="962.6" y="1903.3" width="146.2" height="146.6" fill="none" stroke="#808080" stroke-width="2.2"/><rect x="264.2" y="2057.9" width="379" height="144.6" fill="#020301"/><g filter="url(#b3)" fill="#18c020"><ellipse cx="355" cy="2135" rx="65" ry="34" opacity="0.08"/><ellipse cx="357" cy="2170" rx="6" ry="8" opacity="0.5"/><ellipse cx="540" cy="2130" rx="65" ry="26" opacity="0.06"/></g><rect x="283.4" y="2081.3" width="337.9" height="102.3" rx="51.1" filter="url(#nz)" opacity="0.6"/><rect x="281.4" y="2079.3" width="341.9" height="106.3" rx="53.1" fill="none" stroke="#fff" stroke-width="5.7" stroke-linecap="round" stroke-dasharray="0.01 11.659"/><g filter="url(#b1)"><ellipse cx="437.4" cy="2126.1" rx="8.7" ry="4.8" fill="#a01400" opacity="0.7" transform="rotate(-30 437.4 2126.1)"/><ellipse cx="445.3" cy="2122.3" rx="4.3" ry="4.7" fill="#18f020"/><ellipse cx="442.6" cy="2123.7" rx="2.3" ry="2.5" fill="#a08000" opacity="0.6"/></g><rect x="422.8" y="2109.7" width="32.2" height="32" fill="none" stroke="#fff" stroke-width="4.8"/><rect x="652.5" y="2057.9" width="145.5" height="144.6" fill="#110b02"/><g transform="translate(652.5 2057.9)" clip-path="url(#cz)"><g filter="url(#px)"><rect x="0" y="0" width="147" height="147" fill="#110b02"/><ellipse cx="25" cy="35" rx="40" ry="55" fill="#121600" opacity="0.7" filter="url(#b7)"/><ellipse cx="125" cy="105" rx="30" ry="45" fill="#0c1802" opacity="0.7" filter="url(#b7)"/><ellipse cx="63" cy="72" rx="40" ry="20" fill="#a01400" opacity="0.7" transform="rotate(-30 63 72)" filter="url(#b7)"/><ellipse cx="104" cy="52.5" rx="17" ry="19" fill="#18f020" filter="url(#b4)"/><ellipse cx="90" cy="60" rx="7" ry="8" fill="#a08000" opacity="0.6" filter="url(#b4)"/></g></g><rect x="807.4" y="2056.9" width="146.2" height="146.6" fill="#eeeeee"/><g transform="translate(807.4 2056.9)" filter="url(#px)"><rect x="0" y="0" width="147" height="147" fill="#eeeeee"/><ellipse cx="86" cy="64" rx="14" ry="21" opacity="0.4" filter="url(#b4)"/><ellipse cx="44.5" cy="85" rx="13" ry="15" opacity="0.2" filter="url(#b4)"/><ellipse cx="65" cy="76" rx="16" ry="12" opacity="0.15" filter="url(#b4)"/></g><rect x="807.4" y="2056.9" width="146.2" height="146.6" fill="none" stroke="#808080" stroke-width="2.2"/><rect x="962.6" y="2056.9" width="146.2" height="146.6" fill="#eeeeee"/><g transform="translate(962.6 2056.9)" filter="url(#px)"><rect x="0" y="0" width="147" height="147" fill="#eeeeee"/><ellipse cx="103.5" cy="56.5" rx="16" ry="18" filter="url(#b4)"/><ellipse cx="104" cy="57" rx="26" ry="28" opacity="0.12" filter="url(#b7)"/></g><rect x="962.6" y="2056.9" width="146.2" height="146.6" fill="none" stroke="#808080" stroke-width="2.2"/><rect x="264.2" y="2211.5" width="379" height="144.6" fill="#020301"/><g filter="url(#b3)" fill="#18c020"><ellipse cx="356" cy="2274" rx="5" ry="6" opacity="0.6"/><ellipse cx="385" cy="2262" rx="7" ry="9" opacity="0.25"/><ellipse cx="410" cy="2280" rx="22" ry="15" opacity="0.12"/><ellipse cx="500" cy="2275" rx="10" ry="12" opacity="0.1"/></g><rect x="282.5" y="2232" width="343.8" height="103" rx="51.5" filter="url(#nz)" opacity="0.35"/><rect x="280.5" y="2230" width="347.8" height="107" rx="53.5" fill="none" stroke="#fff" stroke-width="5.7" stroke-linecap="round" stroke-dasharray="0.01 11.672"/><g filter="url(#b1)"><ellipse cx="466.4" cy="2273" rx="5.6" ry="6.8" fill="#801000" opacity="0.5"/><ellipse cx="466.3" cy="2271.8" rx="3.9" ry="4.5" fill="#d01010" opacity="0.95"/><ellipse cx="472.4" cy="2265.5" rx="4.3" ry="4.3" fill="#18f020"/><ellipse cx="469.9" cy="2268" rx="2.2" ry="2.3" fill="#908000" opacity="0.5"/></g><rect x="451.2" y="2254.7" width="32.2" height="32" fill="none" stroke="#fff" stroke-width="4.8"/><rect x="652.5" y="2211.5" width="145.5" height="144.6" fill="#110b02"/><g transform="translate(652.5 2211.5)" clip-path="url(#cz)"><g filter="url(#px)"><rect x="0" y="0" width="147" height="147" fill="#110b02"/><ellipse cx="25" cy="35" rx="40" ry="55" fill="#121600" opacity="0.7" filter="url(#b7)"/><ellipse cx="125" cy="105" rx="30" ry="45" fill="#0c1802" opacity="0.7" filter="url(#b7)"/><ellipse cx="66" cy="82" rx="24" ry="30" fill="#801000" opacity="0.5" filter="url(#b4)"/><ellipse cx="65.5" cy="76" rx="15" ry="18" fill="#d01010" opacity="0.95" filter="url(#b4)"/><ellipse cx="97" cy="43" rx="17" ry="17" fill="#18f020" filter="url(#b4)"/><ellipse cx="84" cy="56" rx="6" ry="7" fill="#908000" opacity="0.5" filter="url(#b4)"/></g></g><rect x="807.4" y="2210.5" width="146.2" height="146.6" fill="#eeeeee"/><g transform="translate(807.4 2210.5)" filter="url(#px)"><rect x="0" y="0" width="147" height="147" fill="#eeeeee"/><ellipse cx="69.5" cy="71" rx="11" ry="27" opacity="0.62" transform="rotate(40 69.5 71)" filter="url(#b4)"/><ellipse cx="70" cy="71" rx="22" ry="34" opacity="0.1" transform="rotate(40 70 71)" filter="url(#b7)"/></g><rect x="807.4" y="2210.5" width="146.2" height="146.6" fill="none" stroke="#808080" stroke-width="2.2"/><rect x="962.6" y="2210.5" width="146.2" height="146.6" fill="#eeeeee"/><g transform="translate(962.6 2210.5)" filter="url(#px)"><rect x="0" y="0" width="147" height="147" fill="#eeeeee"/><ellipse cx="97" cy="45.5" rx="17" ry="17" opacity="0.97" filter="url(#b4)"/><ellipse cx="97" cy="46" rx="27" ry="27" opacity="0.12" filter="url(#b7)"/></g><rect x="962.6" y="2210.5" width="146.2" height="146.6" fill="none" stroke="#808080" stroke-width="2.2"/><rect x="441.8" y="2363.5" width="202.4" height="11.7" fill="#000"/><rect x="1011" y="2363.3" width="98.4" height="11.7" fill="#000"/></svg></body></html>
